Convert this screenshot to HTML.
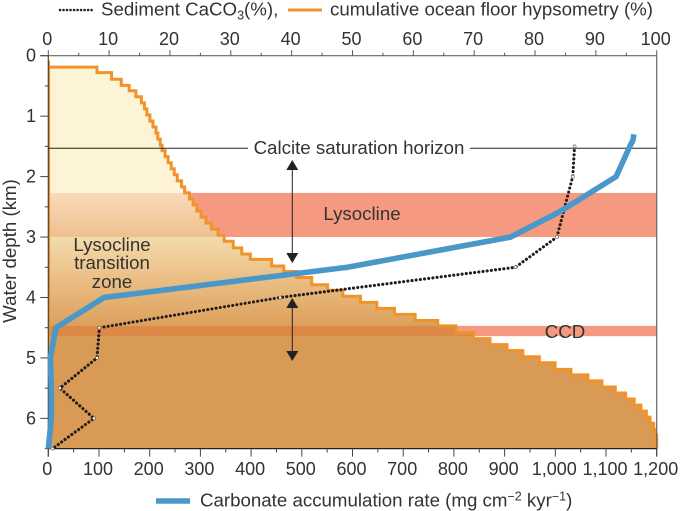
<!DOCTYPE html>
<html>
<head>
<meta charset="utf-8">
<style>
html,body{margin:0;padding:0;background:#fff;width:685px;height:511px;overflow:hidden}
svg{display:block}
text{font-family:"Liberation Sans",sans-serif;fill:#333;font-size:18.7px}
text.tick{font-size:18px}
</style>
</head>
<body>
<svg id="chart" xmlns="http://www.w3.org/2000/svg" width="685" height="511" viewBox="0 0 685 511">
<g id="bands"></g>
<g id="hypso"></g>
<g id="axes"></g>
<g id="series"></g>
<g id="notes"></g>
</svg>
<script>
var hypsoDepth = [0.19,0.28,0.39,0.49,0.58,0.68,0.78,0.88,0.98,1.08,1.18,1.28,1.38,1.48,1.57,1.67,1.77,1.87,1.97,2.07,2.17,2.27,2.37,2.47,2.57,2.67,2.77,2.87,2.97,3.07,3.18,3.28,3.37,3.48,3.57,3.67,3.79,3.88,3.98,4.08,4.18,4.28,4.38,4.47,4.58,4.68,4.78,4.88,4.98,5.08,5.19,5.28,5.38,5.48,5.58,5.68,5.78,5.88,5.98,6.08,6.18,6.28];
var hypsoPercent = [8,10.4,12,13.3,14.4,15.3,15.8,16.2,16.7,17.2,17.7,18,18.4,18.7,19.2,19.7,20.2,20.7,21.2,21.9,22.4,23.2,23.8,24.4,25.1,25.9,26.8,27.9,28.9,30.4,31.8,33.2,36.7,38.7,40.8,43.3,45.9,48.4,51.3,54,56.9,60.3,64,67,69.9,72.6,75.4,78,80.7,83.3,85.9,88.7,91,93.2,94.9,96.3,97.4,98.3,98.9,99.5,99.8,100];
var rateDepth = [1.3,1.4,1.5,2.0,2.58,3.0,3.5,4.0,4.5,5.0,5.5,6.0,6.5];
var rateValues = [1155,1153,1147,1120,1009,912,590,110,15,4,6,6,0];
var caco3Depth = [1.5,2.0,3.0,3.5,4.0,4.5,5.0,5.5,6.0,6.5];
var caco3Percent = [86.5,86.2,83.6,76.8,38.1,8.4,8,1.9,7.5,0.7];
var percentTicks = [0,10,20,30,40,50,60,70,80,90,100];
var rateTicks = [0,100,200,300,400,500,600,700,800,900,1000,1100,1200];
var rateTickLabels = ['0','100','200','300','400','500','600','700','800','900','1,000','1,100','1,200'];
var depthTicks = [0,1,2,3,4,5,6];

var NS = 'http://www.w3.org/2000/svg';
var X0 = 48.3, X1 = 656.7, Y0 = 55.7, Y1 = 448.6;
var LYSO_TOP = 2.27, LYSO_BOTTOM = 3.0, CCD_TOP = 4.47, CCD_BOTTOM = 4.64;
function xPct(p){ return X0 + p * (X1 - X0) / 100; }
function xRate(r){ return X0 + r * (X1 - X0) / 1200; }
function yDepth(d){ return Y0 + d * (Y1 - Y0) / 6.5; }
function depthAt(y){ return (y - Y0) * 6.5 / (Y1 - Y0); }
function mk(parent, tag, attrs, txt){
  var el = document.createElementNS(NS, tag);
  for (var k in attrs) el.setAttribute(k, attrs[k]);
  if (txt !== undefined) el.textContent = txt;
  document.getElementById(parent).appendChild(el);
  return el;
}
function pctAt(d){
  var p = 0;
  for (var i = 0; i < hypsoDepth.length; i++) { if (d >= hypsoDepth[i]) p = hypsoPercent[i]; }
  return p;
}
function ramp(stops, d){
  if (d <= stops[0][0]) return stops[0][1];
  for (var i = 1; i < stops.length; i++) {
    if (d <= stops[i][0]) {
      var a = stops[i-1], b = stops[i], t = (d - a[0]) / (b[0] - a[0]);
      return a[1].map(function(v, j){ return v + (b[1][j] - v) * t; });
    }
  }
  return stops[stops.length-1][1];
}
var baseShade = [[2.27,[253,244,214]],[3.0,[243,219,172]],[3.6,[236,194,138]],[4.47,[221,160,92]],[4.7,[217,154,85]]];
var lysoShade = [[2.27,[249,218,187]],[3.0,[238,192,142]]];
var ccdShade = [220,136,70];
function shade(d){
  var c;
  if (d >= LYSO_TOP && d < LYSO_BOTTOM) c = ramp(lysoShade, d);
  else if (d >= CCD_TOP && d < CCD_BOTTOM) c = ccdShade;
  else c = ramp(baseShade, d);
  return 'rgb(' + Math.round(c[0]) + ',' + Math.round(c[1]) + ',' + Math.round(c[2]) + ')';
}
var el;

// bands
el = mk('bands','rect',{x:X0,y:yDepth(LYSO_TOP),width:X1-X0,height:yDepth(LYSO_BOTTOM)-yDepth(LYSO_TOP),fill:'#f59a80'});


el = mk('bands','rect',{x:X0,y:yDepth(CCD_TOP),width:X1-X0,height:yDepth(CCD_BOTTOM)-yDepth(CCD_TOP),fill:'#f59a80'});



// hypsometry fill, drawn as 1px strips
for (var py = Math.round(yDepth(hypsoDepth[0])); py < Y1; py++) {
  var dep = depthAt(py + 0.5);
  var strip = mk('hypso','rect',{x:X0,y:py,width:xPct(pctAt(dep))-X0,height:1,fill:shade(dep),'shape-rendering':'crispEdges'});
  
  
}
var stair = 'M' + xPct(0) + ' ' + yDepth(hypsoDepth[0]);
for (var i = 0; i < hypsoDepth.length; i++) {
  stair += 'H' + xPct(hypsoPercent[i]);
  stair += 'V' + yDepth(i + 1 < hypsoDepth.length ? hypsoDepth[i + 1] : 6.5);
}
el = mk('hypso','path',{d:stair,fill:'none',stroke:'#f0932b','stroke-width':3});


el = mk('hypso','line',{x1:X0+0.8,y1:yDepth(0.08),x2:X0+0.8,y2:Y1,stroke:'#e8902e','stroke-width':2});



// axes frame
el = mk('axes','line',{x1:X0-8,y1:Y0,x2:X1,y2:Y0,stroke:'#666','stroke-width':1.2});


el = mk('axes','line',{x1:X1,y1:Y0,x2:X1,y2:Y1+8,stroke:'#666','stroke-width':1.2});


el = mk('axes','line',{x1:X0,y1:Y0,x2:X0,y2:Y1+8,stroke:'#444','stroke-width':1.2});


el = mk('axes','line',{x1:X0,y1:Y1,x2:X1,y2:Y1,stroke:'#222','stroke-width':1.2});



percentTicks.forEach(function(p, idx){
  var x = xPct(p);
  var t = mk('axes','line',{x1:x,y1:Y0-5.5,x2:x,y2:Y0,stroke:'#555','stroke-width':1});
  
  
  var l = mk('axes','text',{x:x-1,y:45,'text-anchor':'middle','class':'tick'}, String(p));
  
  
  if (idx < percentTicks.length - 1) {
    var xm = xPct((p + percentTicks[idx + 1]) / 2);
    var m = mk('axes','line',{x1:xm,y1:Y0-3,x2:xm,y2:Y0,stroke:'#555','stroke-width':1});
    
    
  }
});
rateTicks.forEach(function(r, idx){
  var x = xRate(r);
  var t = mk('axes','line',{x1:x,y1:Y1,x2:x,y2:Y1+8,stroke:'#444','stroke-width':1});
  
  
  var l = mk('axes','text',{x:x-1,y:475,'text-anchor':'middle','class':'tick'}, rateTickLabels[idx]);
  
  
  if (idx < rateTicks.length - 1) {
    var xm = xRate((r + rateTicks[idx + 1]) / 2);
    var m = mk('axes','line',{x1:xm,y1:Y1,x2:xm,y2:Y1+4,stroke:'#444','stroke-width':1});
    
    
  }
});
depthTicks.forEach(function(d, idx){
  var y = yDepth(d);
  var t = mk('axes','line',{x1:X0-8,y1:y,x2:X0,y2:y,stroke:'#444','stroke-width':1});
  
  
  var l = mk('axes','text',{x:31,y:y+6,'text-anchor':'middle','class':'tick'}, String(d));
  
  
  var ym = yDepth(d + 0.5);
  var m = mk('axes','line',{x1:X0-3.5,y1:ym,x2:X0,y2:ym,stroke:'#444','stroke-width':1});
  
  
});
el = mk('axes','text',{x:0,y:0,transform:'translate(16,251) rotate(-90)','text-anchor':'middle'}, 'Water depth (km)');



// calcite line behind series
el = mk('axes','line',{x1:X0,y1:148.3,x2:248,y2:148.3,stroke:'#222','stroke-width':1});


el = mk('axes','line',{x1:470,y1:148.3,x2:X1,y2:148.3,stroke:'#222','stroke-width':1});



// series
var dots = caco3Depth.map(function(d, i){ return xPct(caco3Percent[i]) + ',' + yDepth(d); }).join(' ');
el = mk('series','polyline',{points:dots,fill:'none',stroke:'#1c1c1c','stroke-width':3.1,'stroke-linecap':'round','stroke-dasharray':'0.01 4.2'});


caco3Depth.forEach(function(d, i){
  var c = mk('series','circle',{cx:xPct(caco3Percent[i]),cy:yDepth(d),r:1.6,fill:'#f4f4f4',stroke:'#333','stroke-width':0.5});
  
  
});
var rate = rateDepth.map(function(d, i){ return xRate(rateValues[i]) + ',' + yDepth(d); }).join(' ');
el = mk('series','polyline',{points:rate,fill:'none',stroke:'#4a98c9','stroke-width':5.6,'stroke-linejoin':'miter'});



// notes
el = mk('notes','text',{x:359,y:154,'text-anchor':'middle'}, 'Calcite saturation horizon');


el = mk('notes','text',{x:362,y:220,'text-anchor':'middle'}, 'Lysocline');


el = mk('notes','text',{x:112,y:251,'text-anchor':'middle'}, 'Lysocline');


el = mk('notes','text',{x:112,y:269,'text-anchor':'middle'}, 'transition');


el = mk('notes','text',{x:112,y:288,'text-anchor':'middle'}, 'zone');


el = mk('notes','text',{x:565,y:338,'text-anchor':'middle'}, 'CCD');



// arrows
el = mk('notes','line',{x1:292.3,y1:165,x2:292.3,y2:258,stroke:'#222','stroke-width':1});


el = mk('notes','polygon',{points:'292.3,160 286.3,170 298.3,170',fill:'#222'});


el = mk('notes','polygon',{points:'292.3,263 286.3,253 298.3,253',fill:'#222'});


el = mk('notes','line',{x1:292.3,y1:302,x2:292.3,y2:356,stroke:'#222','stroke-width':1});


el = mk('notes','polygon',{points:'292.3,298 286.3,308 298.3,308',fill:'#222'});


el = mk('notes','polygon',{points:'292.3,361 286.3,351 298.3,351',fill:'#222'});



// legends
el = mk('notes','line',{x1:60,y1:10,x2:92,y2:10,stroke:'#222','stroke-width':2.6,'stroke-linecap':'round','stroke-dasharray':'0.01 3.5'});


el = mk('notes','text',{x:101,y:15.5}, '');


el.innerHTML = 'Sediment CaCO<tspan dy="4" font-size="12.5">3</tspan><tspan dy="-4">(%),</tspan>';
el = mk('notes','line',{x1:288,y1:10,x2:322,y2:10,stroke:'#f0932b','stroke-width':3});


el = mk('notes','text',{x:330,y:15.5}, 'cumulative ocean floor hypsometry (%)');


el = mk('notes','line',{x1:156,y1:501,x2:190,y2:501,stroke:'#4a98c9','stroke-width':5.6});


el = mk('notes','text',{x:200,y:506.5}, '');


el.innerHTML = 'Carbonate accumulation rate (mg cm<tspan dy="-6" font-size="12.5">\u22122</tspan><tspan dy="6"> kyr</tspan><tspan dy="-6" font-size="12.5">\u22121</tspan><tspan dy="6">)</tspan>';
</script>
</body>
</html>
